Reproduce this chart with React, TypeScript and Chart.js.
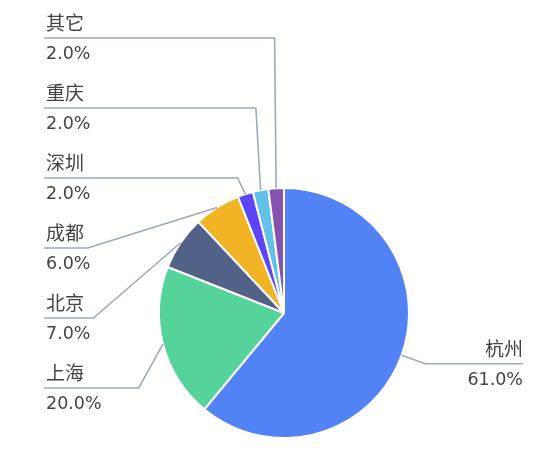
import { useEffect, useRef } from 'react';
import { Chart, registerables } from 'chart.js';

Chart.register(...registerables);

const cities = ['杭州', '上海', '北京', '成都', '深圳', '重庆', '其它'];
const shares = [61, 20, 7, 6, 2, 2, 2];
const sliceColors = ['#5182F6', '#56D39A', '#516188', '#F2B324', '#5D45F5', '#63C0E9', '#8652B0'];

const LINE_COLOR = '#9DAAB9';
const TEXT_COLOR = '#444444';
const NAME_FONT = '19px "Noto Sans CJK SC", sans-serif';
const PCT_FONT = '17.5px "DejaVu Sans", sans-serif';

const LEN1 = 25; // radial part of the leader line
const LABEL_H = 70; // height of a two-line label block
const MAX_SURFACE_ANGLE = 75;
const LEFT_EDGE = 44;
const RIGHT_EDGE = 523;

type Lbl = {
  name: string;
  pct: string;
  left: boolean;
  nx: number;
  ny: number;
  ax: number;
  ay: number;
  bx: number;
  by: number;
  y: number;
};

// push overlapping labels apart, then spread the shift evenly (like echarts)
function shiftSide(items: Lbl[], minY: number, maxY: number) {
  if (items.length < 2) return;
  items.sort((a, b) => a.y - b.y);
  let last = minY;
  let total = 0;
  for (const it of items) {
    const delta = it.y - LABEL_H / 2 - last;
    if (delta < 0) {
      it.y -= delta;
      total -= delta;
    }
    last = it.y + LABEL_H / 2;
  }
  if (total > 0) items.forEach((it) => (it.y -= total / items.length));
  const top = items[0].y - LABEL_H / 2;
  if (top < minY) items.forEach((it) => (it.y += minY - top));
  const bottom = items[items.length - 1].y + LABEL_H / 2;
  if (bottom > maxY) items.forEach((it) => (it.y -= bottom - maxY));
}

function limitSurfaceAngle(l: Lbl, ex: number) {
  const ey = l.y;
  let dx = l.bx - l.ax;
  let dy = l.by - l.ay;
  const len1 = Math.hypot(dx, dy);
  let d2x = ex - l.bx;
  let d2y = ey - l.by;
  const len2 = Math.hypot(d2x, d2y);
  if (len1 < 1e-3 || len2 < 1e-3) return;
  dx /= len1;
  dy /= len1;
  d2x /= len2;
  d2y /= len2;
  const maxA = (MAX_SURFACE_ANGLE / 180) * Math.PI;
  if (dx * l.nx + dy * l.ny >= Math.cos(maxA)) return;
  // projection of the anchor onto the horizontal segment
  const t0 = (l.ax - l.bx) * d2x + (l.ay - l.by) * d2y;
  let px = l.bx + d2x * t0;
  let py = l.by + d2y * t0;
  const dist = Math.hypot(l.ax - px, l.ay - py);
  const angle2 = Math.acos(d2x * l.nx + d2y * l.ny);
  const newAngle = Math.PI / 2 + angle2 - maxA;
  if (newAngle >= Math.PI / 2) {
    px = ex;
    py = ey;
  } else {
    const k = dist / Math.tan(Math.PI / 2 - newAngle);
    px += d2x * k;
    py += d2y * k;
    const t = (px - l.bx) / (ex - l.bx);
    if (t < 0) {
      px = l.bx;
      py = l.by;
    } else if (t > 1) {
      px = ex;
      py = ey;
    }
  }
  l.bx = px;
  l.by = py;
}

const pieLabels = {
  id: 'pieLabels',
  afterDatasetsDraw(chart: Chart) {
    const ctx = chart.ctx;
    const meta = chart.getDatasetMeta(0);
    const values = chart.data.datasets[0].data as number[];
    const total = values.reduce((s, v) => s + v, 0);
    const list: Lbl[] = meta.data.map((el: any, i: number) => {
      const { x, y, startAngle, endAngle, outerRadius } = el.getProps(
        ['x', 'y', 'startAngle', 'endAngle', 'outerRadius'],
        true
      );
      const mid = (startAngle + endAngle) / 2;
      const nx = Math.cos(mid);
      const ny = Math.sin(mid);
      const by = y + ny * (outerRadius + LEN1);
      return {
        name: String(chart.data.labels![i]),
        pct: ((values[i] / total) * 100).toFixed(1) + '%',
        left: nx < 0,
        nx,
        ny,
        ax: x + nx * outerRadius,
        ay: y + ny * outerRadius,
        bx: x + nx * (outerRadius + LEN1),
        by,
        y: by,
      };
    });
    const h = chart.height;
    shiftSide(list.filter((l) => l.left), 3, h);
    shiftSide(list.filter((l) => !l.left), 3, h);

    ctx.save();
    for (const l of list) {
      const ex = l.left ? LEFT_EDGE : RIGHT_EDGE;
      l.by = l.y;
      limitSurfaceAngle(l, ex);
      ctx.strokeStyle = LINE_COLOR;
      ctx.lineWidth = 1.6;
      ctx.lineJoin = 'miter';
      ctx.beginPath();
      ctx.moveTo(l.ax, l.ay);
      ctx.lineTo(l.bx, l.by);
      ctx.lineTo(ex, l.y);
      ctx.stroke();

      ctx.fillStyle = TEXT_COLOR;
      ctx.textBaseline = 'alphabetic';
      ctx.textAlign = l.left ? 'left' : 'right';
      const tx = l.left ? ex + 2 : ex;
      ctx.font = NAME_FONT;
      ctx.fillText(l.name, tx, l.y - 8);
      ctx.font = PCT_FONT;
      ctx.fillText(l.pct, tx, l.y + 21);
    }
    ctx.restore();
  },
};

function PieChart() {
  const canvasRef = useRef<HTMLCanvasElement>(null);
  const chartRef = useRef<Chart | null>(null);

  useEffect(() => {
    const ctx = canvasRef.current!.getContext('2d');
    if (chartRef.current) chartRef.current.destroy();
    chartRef.current = new Chart(ctx!, {
      type: 'pie',
      data: {
        labels: cities,
        datasets: [
          {
            data: shares,
            backgroundColor: sliceColors,
            borderColor: '#ffffff',
            borderWidth: 2,
            hoverOffset: 0,
          },
        ],
      },
      options: {
        responsive: false,
        animation: false,
        radius: 125,
        layout: { padding: { left: 159, right: 149, top: 188, bottom: 26 } },
        plugins: {
          legend: { display: false },
          tooltip: { enabled: false },
        },
      } as any,
      plugins: [pieLabels],
    });
    return () => {
      if (chartRef.current) {
        chartRef.current.destroy();
        chartRef.current = null;
      }
    };
  }, []);

  return (
    <canvas
      ref={canvasRef}
      width={558}
      height={464}
      style={{ position: 'fixed', left: 0, top: 0, display: 'block' }}
    ></canvas>
  );
}

export default function App() {
  return <PieChart />;
}
